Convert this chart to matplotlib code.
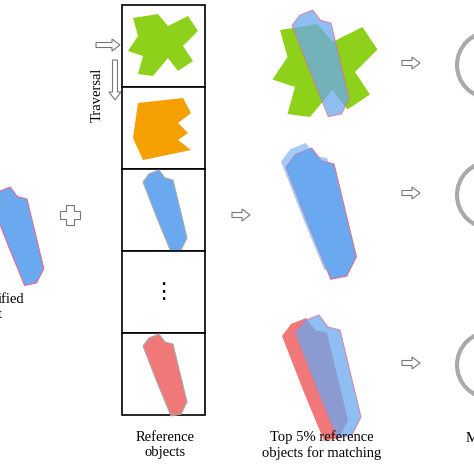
import matplotlib
matplotlib.use("Agg")
import matplotlib.pyplot as plt
from matplotlib.patches import Polygon, Rectangle, Circle, FancyArrow
import numpy as np

GREEN = "#8ed11a"
ORANGE = "#f5a000"
BLUE = "#6aa8f0"
RED = "#f07878"

# shapes (local coords, centred roughly on 0,0)
green_shape = [(-30, -28), (-5, -32), (5, -20), (25, -30), (35, -15), (20, 0), (30, 15),
               (15, 25), (5, 12), (-10, 30), (-25, 28), (-20, 10), (-35, 5), (-25, -10)]
orange_shape = [(-25, -25), (20, -30), (28, -15), (15, -5), (25, 5), (15, 12), (28, 22),
                (-20, 32), (-30, 10)]
strip_shape = [(-14, -36), (-4, -40), (2, -32), (10, -30), (24, 28), (18, 40), (8, 42),
               (-6, 8), (-20, -28)]
box_tops = [5, 87, 169, 251, 333]
box_colors = [GREEN, ORANGE, BLUE, None, RED]
circle_y = [85, 215, 385]


def shape(ax, pts, cx, cy, color, sc=1.0, alpha=1.0, ec="none"):
    p = np.array(pts) * sc + [cx, cy]
    ax.add_patch(Polygon(p, closed=True, fc=color, ec=ec, alpha=alpha, lw=0.8))


def hollow_arrow(ax, x, y, dx=18, dy=0):
    ax.add_patch(FancyArrow(x, y, dx, dy, width=5, head_width=12, head_length=8,
                            length_includes_head=True, fc="white", ec="#777777", lw=0.8))


fig = plt.figure(figsize=(4.74, 4.74), dpi=100)
ax = fig.add_axes([0, 0, 1, 1])
ax.set_xlim(0, 474)
ax.set_ylim(474, 0)
ax.axis("off")

# classified object on the left (cut off)
shape(ax, strip_shape, 15, 235, BLUE, sc=1.2, ec="#e07090")
ax.text(-2, 307, "ified\nt", fontsize=10.5, family="Liberation Serif", ha="left", va="center")
# plus
px, py = 70, 215
plus = [(px-4, py-10), (px+4, py-10), (px+4, py-4), (px+10, py-4), (px+10, py+4), (px+4, py+4),
        (px+4, py+10), (px-4, py+10), (px-4, py+4), (px-10, py+4), (px-10, py-4), (px-4, py-4)]
ax.add_patch(Polygon(plus, fc="white", ec="#777777", lw=0.8))

# reference boxes
for top, col in zip(box_tops, box_colors):
    ax.add_patch(Rectangle((122, top), 83, 82, fc="white", ec="black", lw=1.2))
    cx, cy = 163, top + 41
    if col == GREEN:
        shape(ax, green_shape, cx, cy, col)
    elif col == ORANGE:
        shape(ax, orange_shape, cx, cy, col)
    elif col is not None:
        shape(ax, strip_shape, cx, cy, col, ec="#aaaaaa")
    else:
        ax.text(cx, cy, "⋮", fontsize=16, ha="center", va="center")
ax.text(165, 445, "Reference\nobjects", fontsize=10.5, family="Liberation Serif",
        ha="center", va="center")

# traversal
ax.text(97, 95, "Traversal", rotation=90, fontsize=10.5, family="Liberation Serif",
        ha="center", va="center")
hollow_arrow(ax, 96, 45, 24, 0)
hollow_arrow(ax, 115, 60, 0, 40)

# overlays
hollow_arrow(ax, 232, 215)
shape(ax, green_shape, 325, 72, GREEN, sc=1.5)
shape(ax, strip_shape, 318, 62, BLUE, sc=1.3, alpha=0.75, ec="#e07090")
shape(ax, strip_shape, 318, 212, BLUE, sc=1.6, ec="#e07090")
shape(ax, strip_shape, 312, 205, BLUE, sc=1.55, alpha=0.6)
shape(ax, strip_shape, 312, 378, RED, sc=1.5)
shape(ax, strip_shape, 325, 375, BLUE, sc=1.5, alpha=0.75, ec="#e07090")
ax.text(322, 445, "Top 5% reference\nobjects for matching", fontsize=10.5,
        family="Liberation Serif", ha="center", va="center")

# arrows to results
for cy in circle_y:
    hollow_arrow(ax, 402, cy - 22)
    ax.add_patch(Circle((490, cy - 20), 33, fc="white", ec="#aaaaaa", lw=3))
ax.text(466, 438, "M", fontsize=10.5, family="Liberation Serif", ha="left", va="center")

fig.savefig("out.png", dpi=100)
